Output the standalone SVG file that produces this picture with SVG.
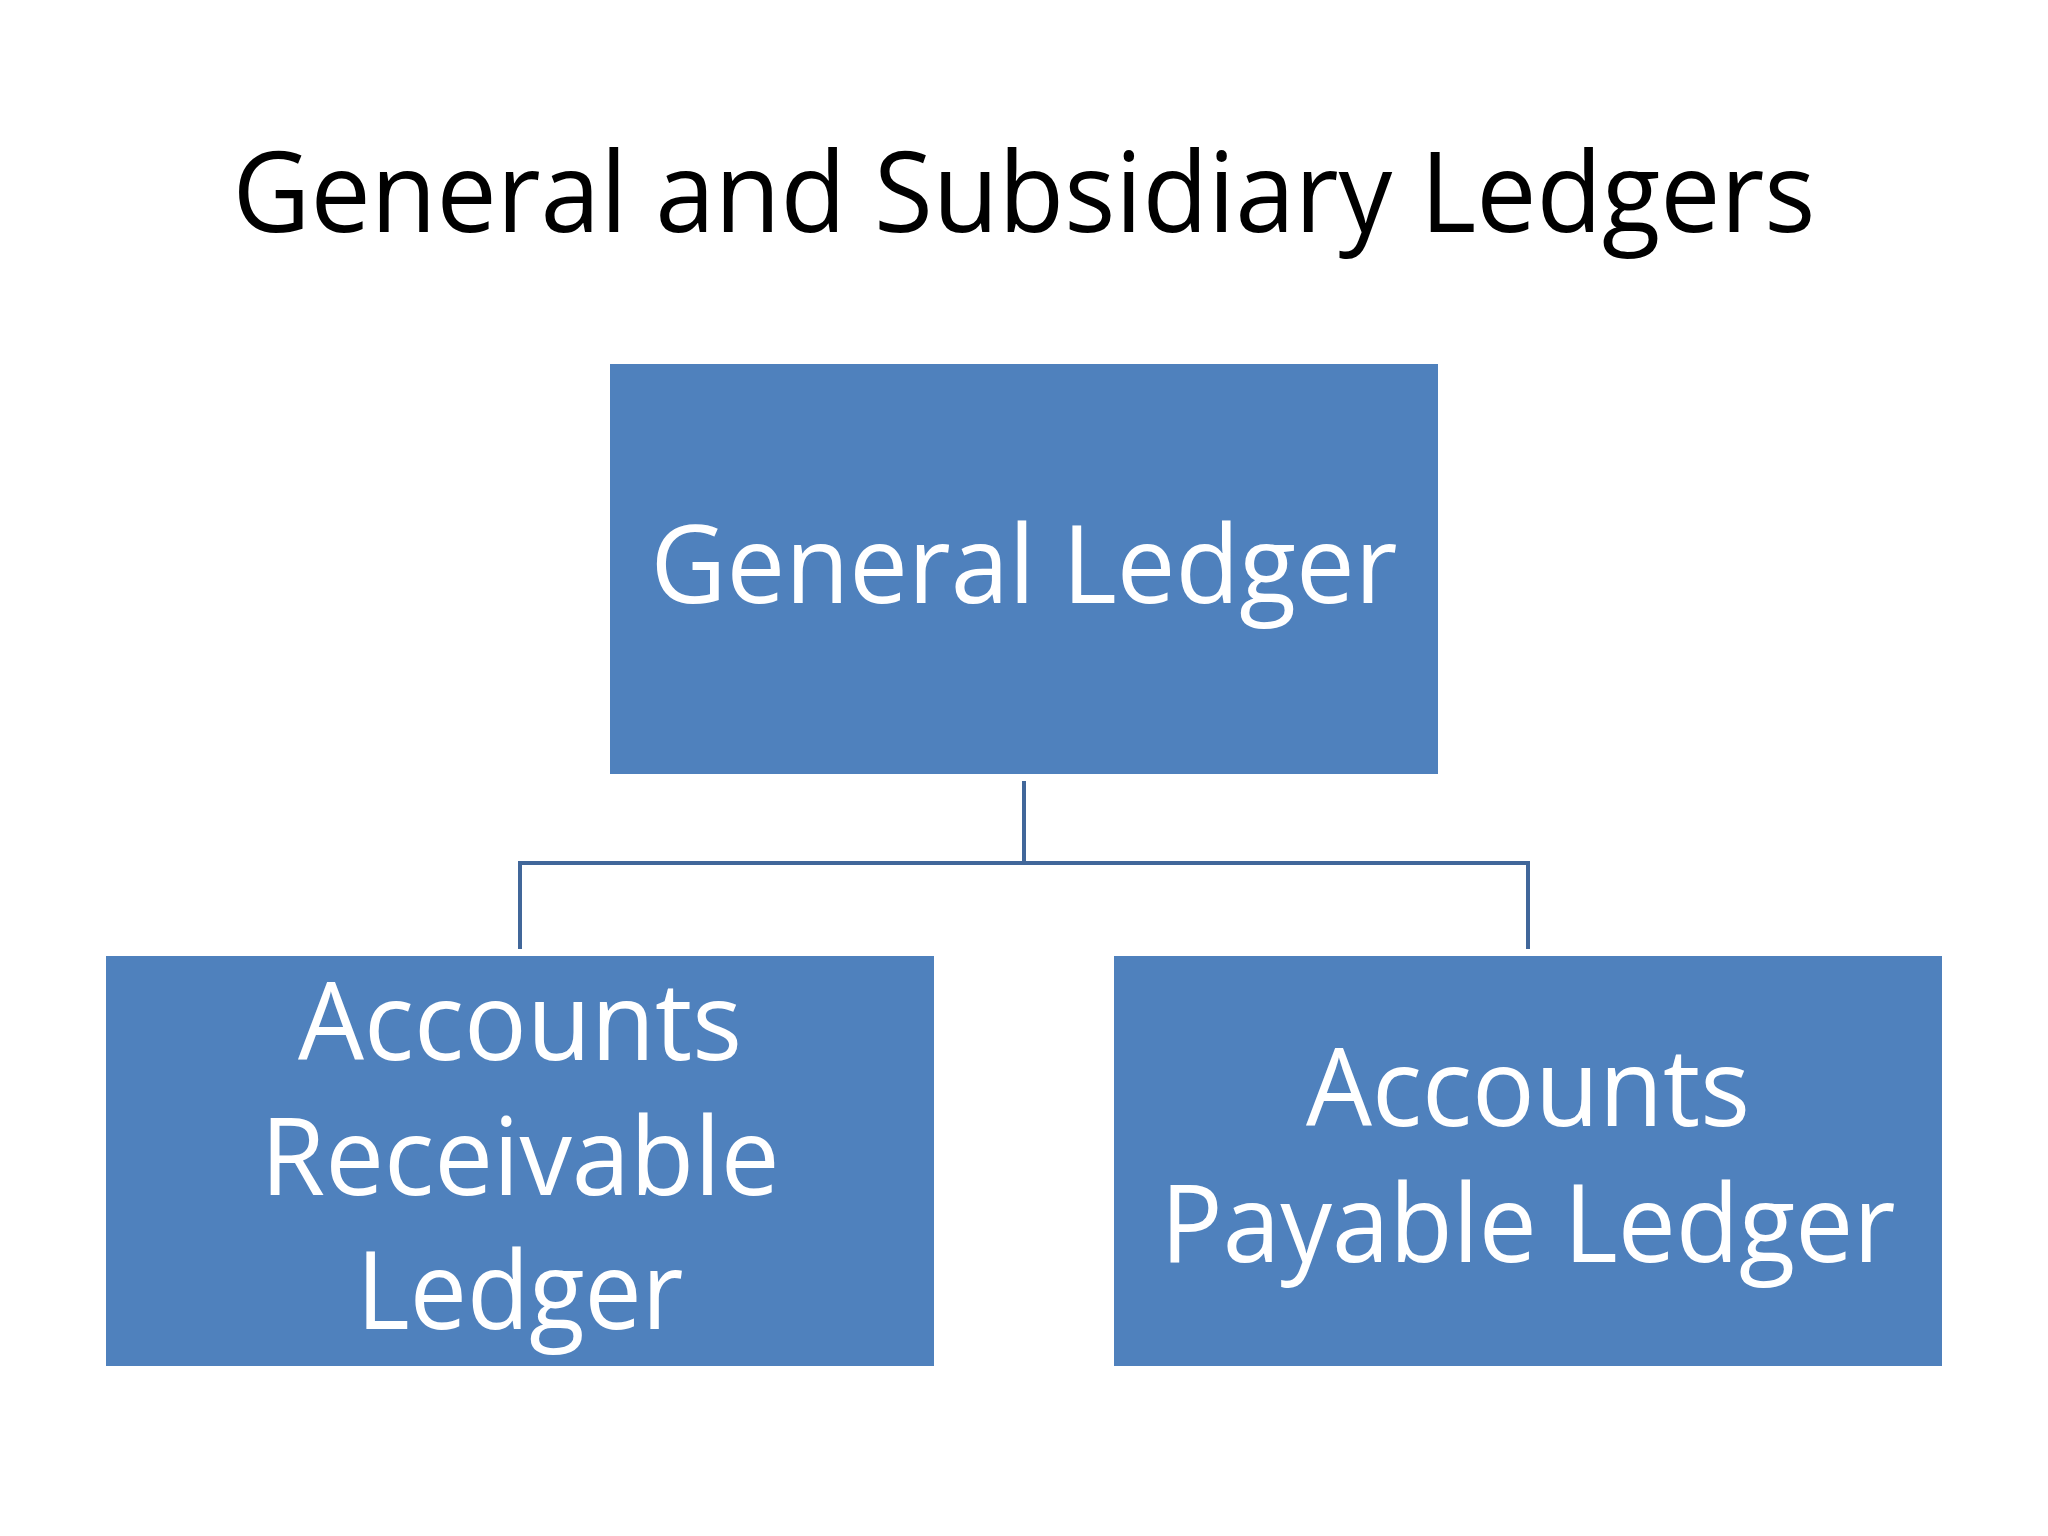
<svg xmlns="http://www.w3.org/2000/svg" width="2048" height="1536" viewBox="0 0 2048 1536">
<style>
.box{fill:#4F81BD;}
.t{font-family:"Open Sans","Liberation Sans",sans-serif;fill:#fff;font-size:108px;text-anchor:middle;}
.conn{stroke:#41679A;stroke-width:4;fill:none;}
</style>
<rect width="2048" height="1536" fill="#fff"/>
<text x="1024" y="232" font-family="Open Sans, Liberation Sans, sans-serif" font-size="112" text-anchor="middle" textLength="1583" lengthAdjust="spacingAndGlyphs" fill="#000">General and Subsidiary Ledgers</text>
<g id="connectors">
<path class="conn" d="M1024 781V863M520 949V863H1528V949"/>
</g>
<g id="general">
<rect class="box" x="610" y="364" width="828" height="410"/>
<text class="t" x="1024" y="603" textLength="747" lengthAdjust="spacingAndGlyphs">General Ledger</text>
</g>
<g id="receivable">
<rect class="box" x="106" y="956" width="828" height="410"/>
<text class="t" x="520" y="1060" textLength="444" lengthAdjust="spacingAndGlyphs">Accounts</text>
<text class="t" x="520" y="1195" textLength="519" lengthAdjust="spacingAndGlyphs">Receivable</text>
<text class="t" x="520" y="1329" textLength="327" lengthAdjust="spacingAndGlyphs">Ledger</text>
</g>
<g id="payable">
<rect class="box" x="1114" y="956" width="828" height="410"/>
<text class="t" x="1528" y="1126" textLength="444" lengthAdjust="spacingAndGlyphs">Accounts</text>
<text class="t" x="1528" y="1262" textLength="735" lengthAdjust="spacingAndGlyphs">Payable Ledger</text>
</g>
</svg>
